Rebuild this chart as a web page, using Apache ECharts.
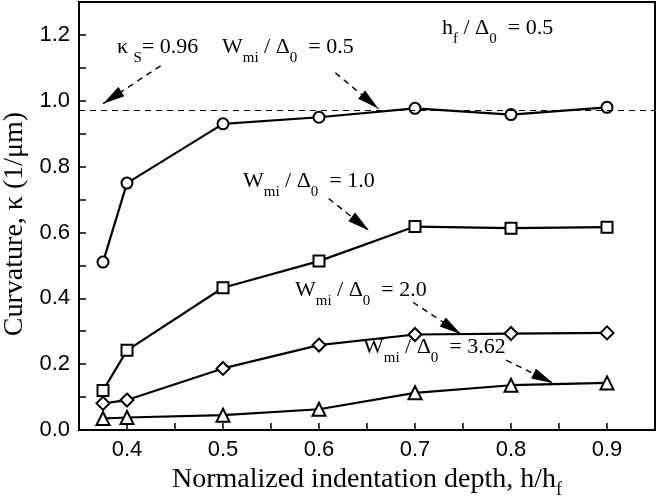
<!DOCTYPE html>
<html>
<head>
<meta charset="utf-8">
<script src="https://cdn.jsdelivr.net/npm/echarts@6/dist/echarts.min.js"></script>
<style>
  html, body { margin: 0; padding: 0; background: #fff; }
  #chart { width: 656px; height: 501px; }
</style>
</head>
<body>
<div id="chart"></div>
<script>
// normalized indentation depth h/hf
const depth = [0.375, 0.4, 0.5, 0.6, 0.7, 0.8, 0.9];
// curvature (1/um) for each Wmi/Δ0
const w05 = [0.51, 0.75, 0.93, 0.95, 0.977, 0.958, 0.98];
const w10 = [0.12, 0.242, 0.432, 0.513, 0.618, 0.613, 0.616];
const w20 = [0.081, 0.091, 0.187, 0.258, 0.29, 0.293, 0.295];
const w362 = [0.035, 0.038, 0.045, 0.063, 0.113, 0.136, 0.143];
const kappaS = 0.97;

// annotation arrows [from, to] in data coords
const arrows = [
  [[0.435, 1.106], [0.375, 0.991]],
  [[0.617, 1.085], [0.662, 0.976]],
  [[0.610, 0.703], [0.652, 0.606]],
  [[0.698, 0.388], [0.748, 0.291]],
  [[0.795, 0.212], [0.844, 0.142]]
];

const serif = 'Liberation Serif';
const sans = 'Liberation Sans';

const pair = (ys) => depth.map((x, i) => [x, ys[i]]);

// narrow filled arrow head, tip pointing along the line
const head = 'path://M5,0 L10,20 L0,20 Z';

const chart = echarts.init(document.getElementById('chart'));

const rich = {
  m: { fontSize: 22, fontFamily: serif, fill: '#000', verticalAlign: 'top' },
  s: { fontSize: 15, fontFamily: serif, fill: '#000', verticalAlign: 'top', padding: [15, 0, 0, 0] }
};
const note = (x, y, text) => ({
  type: 'text', x: x, y: y,
  style: { text: text, rich: rich, fill: '#000' }
});

const lineSeries = (ys, symbol, size) => ({
  type: 'line',
  data: pair(ys),
  symbol: symbol,
  symbolSize: size,
  lineStyle: { color: '#000', width: 2.2 },
  itemStyle: { color: '#000', borderWidth: 1.1 },
  z: 3
});

const dash = { color: '#000', type: [6, 5], width: 1.4 };

const s05 = lineSeries(w05, 'emptyCircle', 11);
s05.markLine = {
  silent: true,
  animation: false,
  symbol: 'none',
  label: { show: false },
  lineStyle: dash,
  itemStyle: { color: '#000' },
  data: [
    { yAxis: kappaS, symbol: 'none', symbolSize: 0, lineStyle: { color: '#000', type: [6, 5], width: 1.2 } }
  ].concat(arrows.map(a => [
    { coord: a[0], symbol: 'none', symbolSize: 0 },
    { coord: a[1], symbol: head, symbolSize: [11, 22], symbolOffset: [0, 11] }
  ]))
};

chart.setOption({
  animation: false,
  grid: {
    left: 79, right: 1, top: 2, bottom: 71,
    outerBoundsMode: 'none',
    show: true, borderColor: '#000', borderWidth: 2
  },
  xAxis: {
    type: 'value',
    min: 0.35, max: 0.95, interval: 0.05,
    name: '{a|Normalized indentation depth, h/h}{b|f}',
    nameLocation: 'middle',
    nameGap: 34,
    nameTextStyle: {
      rich: {
        a: { fontSize: 28, fontFamily: serif, color: '#000', verticalAlign: 'top' },
        b: { fontSize: 18, fontFamily: serif, color: '#000', verticalAlign: 'top', padding: [15, 0, 0, 0] }
      }
    },
    axisLine: { lineStyle: { color: '#000', width: 2 } },
    axisTick: { inside: true, length: 7, lineStyle: { color: '#000', width: 1.5 } },
    axisLabel: {
      fontSize: 22, fontFamily: sans, color: '#000', margin: 9,
      formatter: v => (Math.round(v * 100) % 10 === 0 ? v.toFixed(1) : '')
    },
    splitLine: { show: false }
  },
  yAxis: {
    type: 'value',
    min: 0, max: 1.3, interval: 0.1,
    name: 'Curvature, κ (1/μm)',
    nameLocation: 'middle',
    nameGap: 46,
    nameTextStyle: { fontSize: 28, fontFamily: serif, color: '#000', padding: [0, 16, 0, 0] },
    axisLine: { lineStyle: { color: '#000', width: 2 } },
    axisTick: { inside: true, length: 7, lineStyle: { color: '#000', width: 1.5 } },
    axisLabel: {
      fontSize: 22, fontFamily: sans, color: '#000', margin: 9,
      formatter: v => (Math.round(v * 10) % 2 === 0 ? v.toFixed(1) : '')
    },
    splitLine: { show: false }
  },
  series: [
    s05,
    lineSeries(w10, 'emptyRect', 11),
    lineSeries(w20, 'emptyDiamond', 13),
    lineSeries(w362, 'emptyTriangle', 13)
  ],
  graphic: [
    note(117, 36, '{m|κ }{s|S}{m|= 0.96}'),
    note(222, 36, '{m|W}{s|mi}{m| / Δ}{s|0}{m|  = 0.5}'),
    note(442, 17, '{m|h}{s|f}{m| / Δ}{s|0}{m|  = 0.5}'),
    note(243, 170, '{m|W}{s|mi}{m| / Δ}{s|0}{m|  = 1.0}'),
    note(295, 279, '{m|W}{s|mi}{m| / Δ}{s|0}{m|  = 2.0}'),
    note(363, 336, '{m|W}{s|mi}{m| / Δ}{s|0}{m|  = 3.62}')
  ]
});
</script>
</body>
</html>
